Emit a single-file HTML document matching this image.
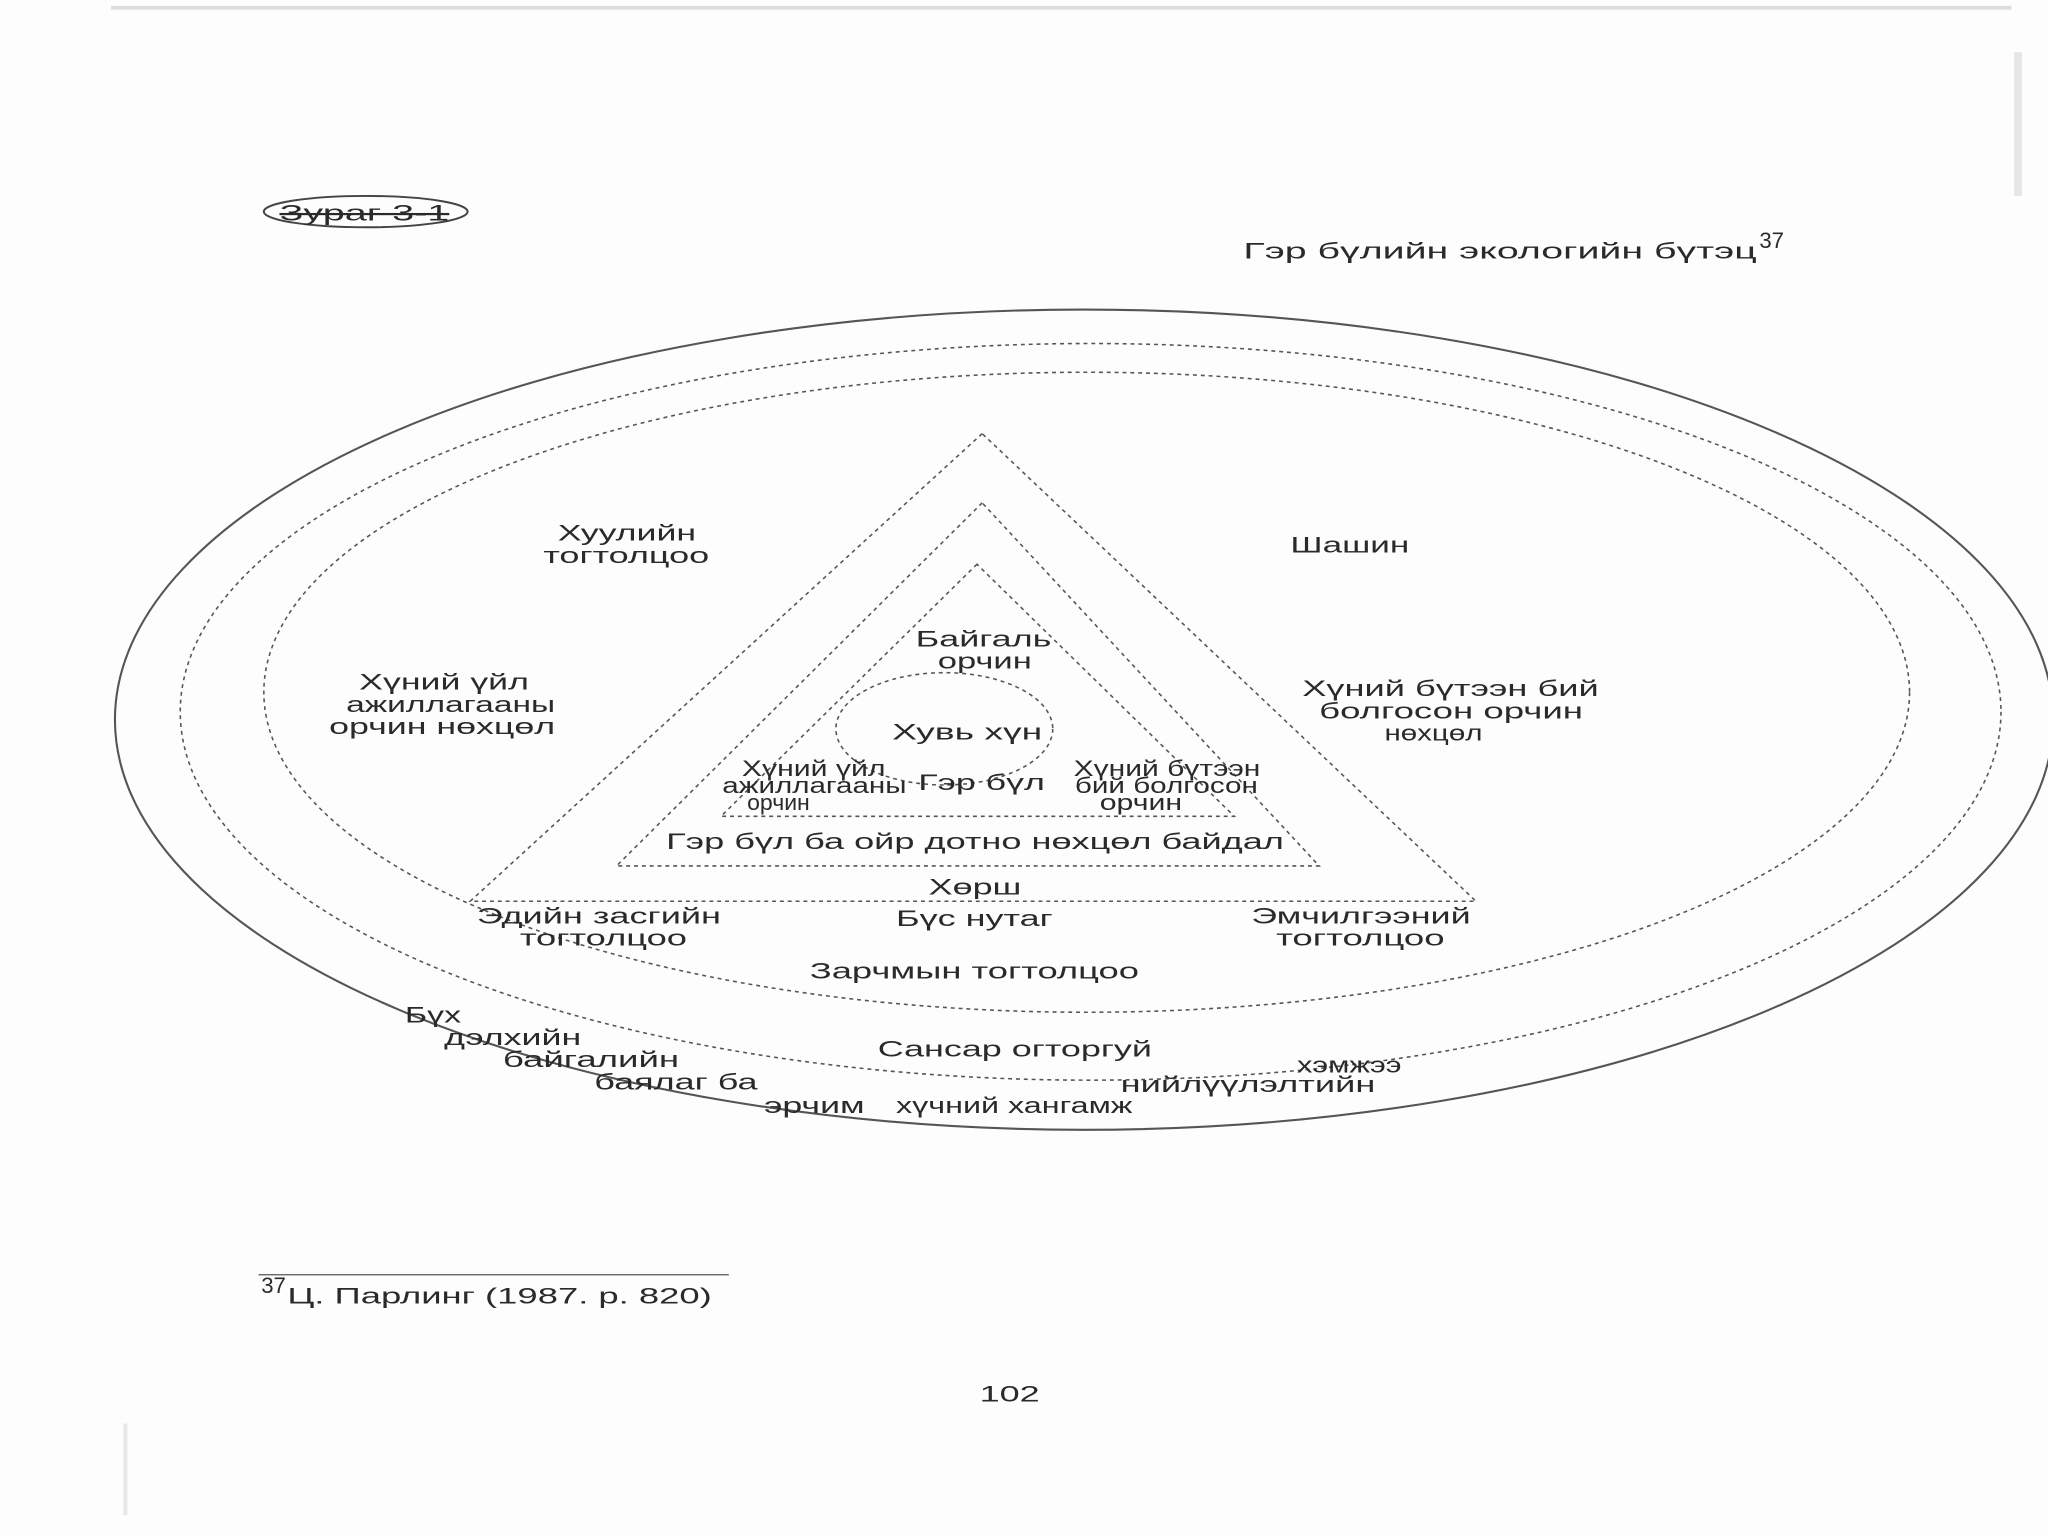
<!DOCTYPE html>
<html><head><meta charset="utf-8"><style>
html,body{margin:0;padding:0;background:#fdfdfd;}
svg{display:block}
text{font-family:"Liberation Sans",sans-serif;fill:#2a2a2a;font-size:17px;}
</style></head><body>
<svg width="2048" height="1536" viewBox="0 0 1568 1176" xmlns="http://www.w3.org/2000/svg">
<rect width="1568" height="1176" fill="#fdfdfd"/>
<line x1="85" y1="6" x2="1540" y2="6" stroke="#ddd" stroke-width="3"/>
<line x1="1545" y1="40" x2="1545" y2="150" stroke="#e6e6e6" stroke-width="6"/>
<ellipse cx="280" cy="162" rx="78" ry="12" fill="none" stroke="#444" stroke-width="1.5"/>
<text x="214" y="169" textLength="130" lengthAdjust="spacingAndGlyphs" style="text-decoration:line-through">Зураг 3-1</text>
<text x="952" y="198" textLength="393" lengthAdjust="spacingAndGlyphs">Гэр бүлийн экологийн бүтэц</text>
<text x="1347" y="190" font-size="9">37</text>
<g fill="none" stroke="#555">
<ellipse cx="830" cy="551" rx="742" ry="314" stroke-width="1.6"/>
<ellipse cx="835" cy="545" rx="697" ry="282" stroke-dasharray="3,3" stroke-width="1.2"/>
<ellipse cx="832" cy="530" rx="630" ry="245" stroke-dasharray="3,3" stroke-width="1.2"/>
<polygon points="752,332 360,690 1130,690" stroke-dasharray="3,3" stroke-width="1.2"/>
<polygon points="752,385 472,663 1010,663" stroke-dasharray="3,3" stroke-width="1.2"/>
<polygon points="748,432 552,625 945,625" stroke-dasharray="3,3" stroke-width="1.2"/>
<ellipse cx="723" cy="558" rx="83" ry="43" stroke-dasharray="3,3" stroke-width="1.2"/>
</g>
<g>
<text x="427" y="414" textLength="106" lengthAdjust="spacingAndGlyphs">Хуулийн</text>
<text x="416" y="431" textLength="127" lengthAdjust="spacingAndGlyphs">тогтолцоо</text>
<text x="988" y="423" textLength="91" lengthAdjust="spacingAndGlyphs">Шашин</text>
<text x="275" y="528" textLength="130" lengthAdjust="spacingAndGlyphs">Хүний үйл</text>
<text x="265" y="545" textLength="160" lengthAdjust="spacingAndGlyphs">ажиллагааны</text>
<text x="252" y="562" textLength="173" lengthAdjust="spacingAndGlyphs">орчин нөхцөл</text>
<text x="997" y="533" textLength="227" lengthAdjust="spacingAndGlyphs">Хүний бүтээн бий</text>
<text x="1010" y="550" textLength="202" lengthAdjust="spacingAndGlyphs">болгосон орчин</text>
<text x="1060" y="567" textLength="75" lengthAdjust="spacingAndGlyphs">нөхцөл</text>
<text x="701" y="495" textLength="104" lengthAdjust="spacingAndGlyphs">Байгаль</text>
<text x="718" y="512" textLength="72" lengthAdjust="spacingAndGlyphs">орчин</text>
<text x="683" y="566" textLength="115" lengthAdjust="spacingAndGlyphs">Хувь хүн</text>
<text x="568" y="594" font-size="14" textLength="110" lengthAdjust="spacingAndGlyphs">Хүний үйл</text>
<text x="553" y="607" font-size="14" textLength="141" lengthAdjust="spacingAndGlyphs">ажиллагааны</text>
<text x="572" y="620" font-size="14" textLength="48" lengthAdjust="spacingAndGlyphs">орчин</text>
<text x="703" y="605" textLength="97" lengthAdjust="spacingAndGlyphs">Гэр бүл</text>
<text x="822" y="594" font-size="14" textLength="143" lengthAdjust="spacingAndGlyphs">Хүний бүтээн</text>
<text x="823" y="607" font-size="14" textLength="140" lengthAdjust="spacingAndGlyphs">бий болгосон</text>
<text x="842" y="620" font-size="14" textLength="63" lengthAdjust="spacingAndGlyphs">орчин</text>
<text x="510" y="650" textLength="473" lengthAdjust="spacingAndGlyphs">Гэр бүл ба ойр дотно нөхцөл байдал</text>
<text x="711" y="685" textLength="71" lengthAdjust="spacingAndGlyphs">Хөрш</text>
<text x="365" y="707" textLength="187" lengthAdjust="spacingAndGlyphs">Эдийн засгийн</text>
<text x="398" y="724" textLength="128" lengthAdjust="spacingAndGlyphs">тогтолцоо</text>
<text x="686" y="709" textLength="120" lengthAdjust="spacingAndGlyphs">Бүс нутаг</text>
<text x="958" y="707" textLength="168" lengthAdjust="spacingAndGlyphs">Эмчилгээний</text>
<text x="977" y="724" textLength="129" lengthAdjust="spacingAndGlyphs">тогтолцоо</text>
<text x="620" y="749" textLength="252" lengthAdjust="spacingAndGlyphs">Зарчмын тогтолцоо</text>
<text x="672" y="809" textLength="210" lengthAdjust="spacingAndGlyphs">Сансар огторгуй</text>
<text x="310" y="783" textLength="43" lengthAdjust="spacingAndGlyphs">Бүх</text>
<text x="340" y="800" textLength="105" lengthAdjust="spacingAndGlyphs">дэлхийн</text>
<text x="385" y="817" textLength="135" lengthAdjust="spacingAndGlyphs">байгалийн</text>
<text x="455" y="834" textLength="125" lengthAdjust="spacingAndGlyphs">баялаг ба</text>
<text x="585" y="852" textLength="77" lengthAdjust="spacingAndGlyphs">эрчим</text>
<text x="686" y="852" textLength="181" lengthAdjust="spacingAndGlyphs">хүчний хангамж</text>
<text x="858" y="836" textLength="195" lengthAdjust="spacingAndGlyphs">нийлүүлэлтийн</text>
<text x="993" y="821" textLength="80" lengthAdjust="spacingAndGlyphs">хэмжээ</text>
<text x="750" y="1073" font-size="18" textLength="46" lengthAdjust="spacingAndGlyphs">102</text>
</g>
<line x1="198" y1="976" x2="558" y2="976" stroke="#555" stroke-width="1"/>
<text x="200" y="990" font-size="9">37</text>
<text x="220" y="998" textLength="325" lengthAdjust="spacingAndGlyphs">Ц. Парлинг (1987. p. 820)</text>
<line x1="96" y1="1090" x2="96" y2="1160" stroke="#e6e6e6" stroke-width="3"/>
</svg>
</body></html>
